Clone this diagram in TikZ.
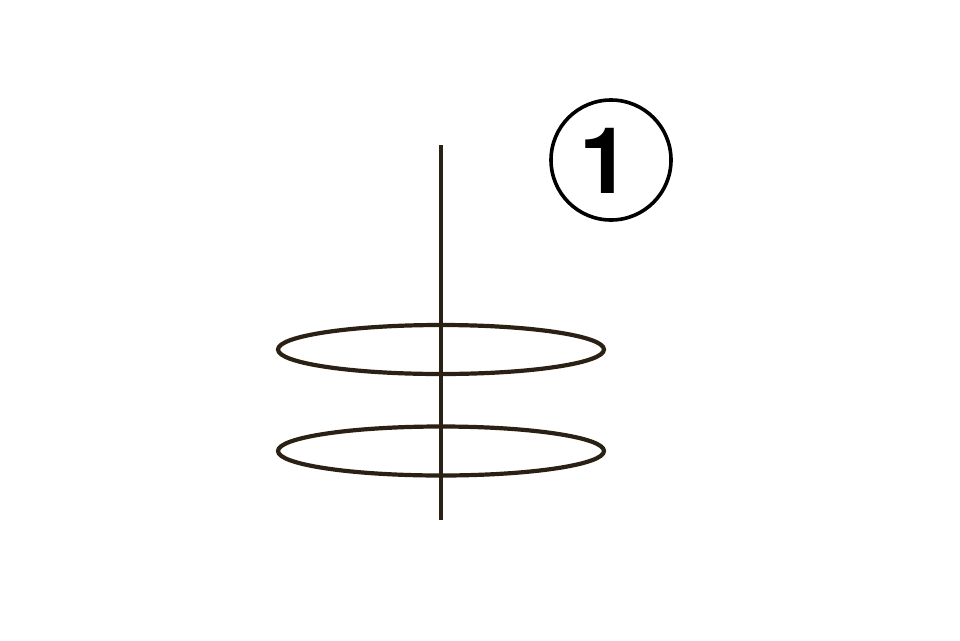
\documentclass[tikz,border=0pt]{standalone}
\usepackage{fontspec}
\newfontfamily\numfont{TeX Gyre Heros}
\definecolor{ink}{HTML}{2A2114}
\begin{document}
\begin{tikzpicture}[x=1pt,y=-1pt,
  wire/.style={draw=ink,line width=4pt},
  ring/.style={draw=ink,line width=4.2pt}]
\useasboundingbox (0,0) rectangle (960,640);
\coordinate (top) at (441,145);
\coordinate (bot) at (441,520);
\draw[wire] (top) -- (bot);
\draw[ring] (441,349.5) ellipse [x radius=163, y radius=24.5];
\draw[ring] (441,451) ellipse [x radius=163, y radius=24.5];
\node[draw=black,line width=3.6pt,circle,minimum size=120pt,inner sep=0pt] (badge) at (611,160) {};
\node[inner sep=0pt,anchor=center] (num) at (605,161) {\numfont\fontsize{92}{92}\selectfont\bfseries 1};
\end{tikzpicture}
\end{document}
